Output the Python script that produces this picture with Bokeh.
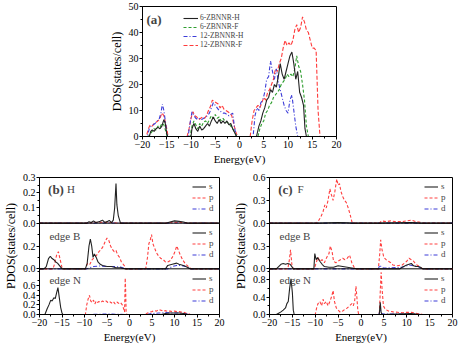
from bokeh.plotting import figure
from bokeh.models import (Range1d, FixedTicker, Legend, LegendItem, Label, Span,
                          CustomJSTickFormatter)
from bokeh.layouts import column, row
from bokeh.embed import file_html
from bokeh.resources import INLINE

FONT = "Liberation Serif"

# ---------------- ticks ----------------
E_TICKS = [-20, -15, -10, -5, 0, 5, 10, 15, 20]
E_MINOR = [-17.5, -12.5, -7.5, -2.5, 2.5, 7.5, 12.5, 17.5]
DOS_TICKS = [0, 10, 20, 30, 40, 50]
DOS_MINOR = [5, 15, 25, 35, 45]

# ---------------- panel (a): total DOS (energy, DOS) ----------------
DOS_6H = [(-20, 0), (-18.6, 0), (-18.3, 2), (-18, 2.5), (-17.6, 2), (-17.2, 3), (-16.8, 3.5),
          (-16.4, 3), (-16, 4), (-15.6, 6.5), (-15.3, 5), (-15, 1), (-14.8, 0), (-10, 0),
          (-9.8, 3), (-9.4, 5), (-9, 3), (-8.6, 2), (-8.2, 4), (-7.8, 2.5), (-7.4, 3), (-7, 4),
          (-6.6, 5), (-6.2, 4), (-5.8, 6), (-5.4, 7.5), (-5, 6), (-4.6, 5), (-4.2, 6.5),
          (-3.8, 5), (-3.4, 6), (-3, 5), (-2.6, 6), (-2.2, 4.5), (-1.8, 5), (-1.4, 3),
          (-1, 1.5), (-0.6, 0), (3.5, 0), (4, 4), (4.4, 6), (4.8, 9), (5.2, 11), (5.6, 14),
          (6, 15), (6.4, 18), (6.8, 17), (7.2, 20), (7.6, 19), (8, 23), (8.4, 28), (8.8, 24),
          (9.2, 22), (9.6, 25), (10, 28), (10.4, 31), (10.8, 32.5), (11.2, 28), (11.6, 22),
          (12, 25), (12.4, 17), (12.8, 15), (13.2, 12), (13.5, 3), (13.8, 0), (20, 0)]
DOS_6F = [(-20, 0), (-18.8, 0), (-18.4, 1), (-18, 2), (-17.6, 3), (-17.2, 2.5), (-16.8, 4),
          (-16.4, 3.5), (-16, 5), (-15.6, 4.5), (-15.2, 2), (-14.9, 0), (-10.2, 0), (-9.8, 4),
          (-9.4, 6), (-9, 4.5), (-8.6, 3), (-8.2, 5), (-7.8, 4), (-7.4, 5.5), (-7, 6), (-6.6, 5),
          (-6.2, 6.5), (-5.8, 8), (-5.4, 7), (-5, 8.5), (-4.6, 7), (-4.2, 7.5), (-3.8, 6),
          (-3.4, 7), (-3, 6), (-2.6, 5.5), (-2.2, 5), (-1.8, 4), (-1.4, 3), (-1, 1.5),
          (-0.6, 0), (3.8, 0), (4.2, 3), (4.6, 5), (5, 6), (5.4, 9), (5.8, 10), (6.2, 12),
          (6.6, 13), (7, 15), (7.4, 16), (7.8, 17), (8.2, 18), (8.6, 20), (9, 21), (9.4, 22),
          (9.8, 24), (10.2, 23), (10.6, 24), (11, 23), (11.4, 26), (11.8, 31), (12.2, 27),
          (12.6, 25), (13, 20), (13.4, 14), (13.8, 4), (14.2, 0), (20, 0)]
DOS_12H = [(-20, 0), (-19, 0), (-18.6, 3), (-18.2, 4), (-17.8, 4.5), (-17.4, 5), (-17, 6),
           (-16.6, 6.5), (-16.2, 9), (-15.9, 12.5), (-15.6, 10), (-15.3, 6), (-15, 1), (-14.8, 0),
           (-10.6, 0), (-10.2, 5), (-9.8, 9.5), (-9.4, 8), (-9, 7), (-8.6, 6.5), (-8.2, 7),
           (-7.8, 6.5), (-7.4, 7), (-7, 7.5), (-6.6, 8), (-6.2, 9), (-5.8, 11), (-5.4, 13),
           (-5, 12), (-4.6, 11), (-4.2, 10), (-3.8, 9.5), (-3.4, 9), (-3, 9), (-2.6, 8.5),
           (-2.2, 8), (-1.8, 8.5), (-1.4, 9), (-1, 3), (-0.6, 0), (2.8, 0), (3.2, 8), (3.6, 11),
           (4, 10), (4.4, 13), (4.8, 14), (5.2, 17), (5.6, 22), (6, 23), (6.4, 29), (6.8, 25),
           (7.2, 22), (7.6, 26), (8, 21), (8.4, 18), (8.8, 15), (9.2, 12), (9.6, 10), (10, 9),
           (10.4, 14), (10.8, 16), (11.2, 10), (11.6, 4), (12, 0), (20, 0)]
DOS_12F = [(-20, 0), (-19.2, 0), (-18.8, 3), (-18.4, 4.5), (-18, 4), (-17.6, 5), (-17.2, 5.5),
           (-16.8, 6), (-16.4, 7), (-16, 9), (-15.6, 8), (-15.2, 5), (-14.8, 1), (-14.6, 0),
           (-10.8, 0), (-10.4, 3), (-10, 7), (-9.6, 9.5), (-9.2, 8), (-8.8, 7.5), (-8.4, 6.5),
           (-8, 7), (-7.6, 7.5), (-7.2, 7), (-6.8, 8), (-6.4, 10), (-6, 11.5), (-5.6, 14),
           (-5.2, 13.5), (-4.8, 13), (-4.4, 12.5), (-4, 11), (-3.6, 12), (-3.2, 10.5),
           (-2.8, 10), (-2.4, 9.5), (-2, 9), (-1.6, 8), (-1.2, 5), (-0.8, 2), (-0.4, 0),
           (2.2, 0), (2.6, 6), (3, 10), (3.4, 11), (3.8, 12), (4.2, 11), (4.6, 13), (5, 15),
           (5.4, 14), (5.8, 17), (6.2, 18), (6.6, 20), (7, 22), (7.4, 26), (7.8, 25), (8.2, 28),
           (8.6, 30), (9, 34), (9.4, 37), (9.8, 35), (10.2, 36), (10.6, 35), (11, 37), (11.4, 41),
           (11.8, 43), (12.2, 40), (12.6, 42), (13, 46), (13.4, 44), (13.8, 41), (14.2, 40),
           (14.6, 37), (15, 34), (15.4, 34), (15.8, 33), (16.2, 10), (16.6, 0), (20, 0)]

SERIES_A = ["6-ZBNNR-H", "6-ZBNNR-F", "12-ZBNNR-H", "12-ZBNNR-F"]

# ---------------- panel (b): H-terminated PDOS ----------------
B_TOPS = [0.95, 0.4, 0.3]            # bottom (edge N), middle (edge B), top (H)
B_YTICKS = [[0.0, 0.2, 0.4, 0.6], [0.0, 0.2], [0.0, 0.1, 0.2, 0.3]]
B_YMINOR = [[0.1, 0.3, 0.5, 0.7, 0.9], [0.1, 0.3], [0.05, 0.15, 0.25]]

B_H_S = [(-20, 0), (-9.5, 0), (-9, 0.01), (-8.5, 0.004), (-8, 0.015), (-7.5, 0.004), (-7, 0.008),
         (-6.5, 0.012), (-6, 0.02), (-5.5, 0.005), (-5, 0.01), (-4.5, 0.018), (-4, 0.004),
         (-3.6, 0.02), (-3.3, 0.1), (-3.0, 0.26), (-2.8, 0.12), (-2.5, 0.05), (-2.2, 0.02),
         (-2, 0), (8, 0), (9, 0.008), (10, 0.015), (11, 0.012), (12, 0.008), (13, 0), (20, 0)]
B_H_P = [(-20, 0), (-9.5, 0), (-8, 0.004), (-6, 0.006), (-4, 0.004), (-2, 0), (8, 0),
         (10, 0.006), (12, 0.004), (13.5, 0), (20, 0)]
B_H_D = [(-20, 0), (-9, 0), (-5, 0.002), (-1, 0), (9, 0), (11, 0.003), (13, 0), (20, 0)]

B_EB_S = [(-20, 0), (-19, 0), (-18.5, 0.02), (-18, 0.09), (-17.6, 0.11), (-17.2, 0.09),
          (-16.8, 0.08), (-16.4, 0.06), (-16, 0.05), (-15.6, 0.03), (-15.2, 0.01), (-15, 0),
          (-9.8, 0), (-9.4, 0.05), (-9, 0.2), (-8.7, 0.26), (-8.4, 0.2), (-8.1, 0.1),
          (-7.8, 0.13), (-7.4, 0.1), (-7, 0.06), (-6.5, 0.04), (-6, 0.03), (-5, 0.02),
          (-4, 0.02), (-3, 0.01), (-2, 0.01), (-1, 0), (8, 0), (8.5, 0.03), (9.5, 0.04),
          (10.5, 0.05), (11, 0.04), (12, 0.03), (12.5, 0.02), (13.5, 0), (20, 0)]
B_EB_P = [(-20, 0), (-17, 0), (-16.6, 0.05), (-16.2, 0.12), (-15.8, 0.15), (-15.4, 0.08),
          (-15, 0.01), (-14.8, 0), (-9.8, 0), (-9.3, 0.05), (-8.8, 0.04), (-8.3, 0.08),
          (-7.8, 0.1), (-7.3, 0.12), (-6.8, 0.15), (-6.3, 0.17), (-5.8, 0.2), (-5.4, 0.24),
          (-5, 0.27), (-4.6, 0.25), (-4.2, 0.2), (-3.8, 0.17), (-3.4, 0.15), (-3, 0.16),
          (-2.6, 0.12), (-2.2, 0.1), (-1.8, 0.06), (-1.4, 0.04), (-1, 0.02), (-0.8, 0),
          (3.6, 0), (4, 0.1), (4.3, 0.22), (4.6, 0.25), (4.9, 0.3), (5.2, 0.22), (5.6, 0.18),
          (6, 0.14), (6.5, 0.11), (7, 0.09), (7.5, 0.08), (8, 0.06), (8.5, 0.06), (9, 0.07),
          (9.5, 0.1), (10, 0.14), (10.5, 0.2), (10.9, 0.16), (11.3, 0.12), (11.8, 0.08),
          (12.3, 0.05), (12.8, 0.03), (13.3, 0.01), (13.8, 0), (20, 0)]
B_EB_D = [(-20, 0), (-9.5, 0), (-8, 0.02), (-6.5, 0.025), (-5, 0.02), (-3.5, 0.02),
          (-2, 0.015), (-1, 0), (8.5, 0), (9.5, 0.02), (10.5, 0.03), (11.5, 0.03), (12.5, 0.02),
          (13.5, 0), (20, 0)]

B_EN_S = [(-20, 0), (-18.8, 0), (-18.3, 0.12), (-17.9, 0.2), (-17.5, 0.3), (-17.2, 0.28),
          (-16.8, 0.35), (-16.5, 0.33), (-16.2, 0.45), (-15.9, 0.56), (-15.6, 0.35),
          (-15.3, 0.15), (-15, 0.03), (-14.8, 0), (7, 0), (8, 0.02), (9, 0.03), (10, 0.03),
          (11, 0.03), (12, 0.02), (13, 0), (20, 0)]
B_EN_P = [(-20, 0), (-9.8, 0), (-9.5, 0.2), (-9.2, 0.32), (-8.9, 0.4), (-8.6, 0.28),
          (-8.3, 0.25), (-8, 0.3), (-7.7, 0.22), (-7.4, 0.28), (-7.1, 0.25), (-6.8, 0.27),
          (-6.4, 0.25), (-6, 0.28), (-5.6, 0.26), (-5.2, 0.28), (-4.8, 0.25), (-4.4, 0.27),
          (-4, 0.24), (-3.6, 0.27), (-3.2, 0.22), (-2.8, 0.26), (-2.4, 0.23), (-2, 0.25),
          (-1.6, 0.2), (-1.3, 0.12), (-1.1, 0.05), (-0.95, 0.76), (-0.85, 0.5), (-0.75, 0.05),
          (-0.6, 0), (3.5, 0), (4, 0.03), (4.5, 0.05), (5, 0.06), (5.5, 0.08), (6, 0.07),
          (6.5, 0.1), (7, 0.09), (7.5, 0.07), (8, 0.08), (8.5, 0.06), (9, 0.07), (9.5, 0.06),
          (10, 0.07), (10.5, 0.06), (11, 0.06), (11.5, 0.05), (12, 0.05), (12.5, 0.03),
          (13, 0.02), (13.5, 0), (20, 0)]
B_EN_D = [(-20, 0), (-9, 0), (-5, 0.01), (-1, 0), (3.5, 0), (5, 0.02), (6.5, 0.03), (8, 0.04),
          (9.5, 0.03), (11, 0.03), (12.5, 0.02), (13.5, 0), (20, 0)]

# ---------------- panel (c): F-terminated PDOS ----------------
C_TOPS = [1.05, 0.6, 0.6]            # bottom (edge N), middle (edge B), top (F)
C_YTICKS = [[0.0, 0.4, 0.8], [0.0, 0.3], [0.0, 0.3, 0.6]]
C_YMINOR = [[0.2, 0.6, 1.0], [0.15, 0.45], [0.15, 0.45]]

C_F_S = [(-20, 0), (-9, 0), (-7, 0.006), (-5, 0.008), (-3, 0.005), (-2, 0), (4, 0),
         (8, 0.005), (11, 0.008), (13, 0), (20, 0)]
C_F_P = [(-20, 0), (-9.8, 0), (-9.3, 0.03), (-8.8, 0.08), (-8.3, 0.15), (-7.9, 0.24),
         (-7.6, 0.2), (-7.2, 0.3), (-6.8, 0.45), (-6.5, 0.38), (-6.1, 0.3), (-5.7, 0.42),
         (-5.3, 0.58), (-5.0, 0.5), (-4.7, 0.52), (-4.4, 0.42), (-4.0, 0.35), (-3.6, 0.3),
         (-3.2, 0.27), (-2.8, 0.2), (-2.4, 0.12), (-2.0, 0.02), (-1.8, 0), (4, 0),
         (4.5, 0.03), (5.5, 0.02), (6.5, 0.03), (7.5, 0.02), (9, 0.02), (10, 0.03),
         (11, 0.04), (12, 0.02), (13, 0.01), (13.5, 0), (20, 0)]
C_F_D = [(-20, 0), (-8, 0), (-5, 0.003), (-2, 0), (20, 0)]

C_EB_S = [(-20, 0), (-18.5, 0), (-18, 0.03), (-17.5, 0.06), (-17, 0.07), (-16.5, 0.06),
          (-16, 0.07), (-15.5, 0.06), (-15, 0.02), (-14.8, 0), (-10.3, 0), (-10.1, 0.2),
          (-9.8, 0.12), (-9.5, 0.15), (-9, 0.1), (-8.5, 0.06), (-8, 0.03), (-7, 0.02),
          (-6, 0.02), (-5, 0.04), (-4, 0.03), (-3, 0.02), (-2, 0.01), (-1, 0), (8.5, 0),
          (9, 0.02), (10, 0.05), (10.5, 0.06), (11, 0.07), (11.5, 0.04), (12, 0.03),
          (12.5, 0.03), (13, 0.02), (13.5, 0), (20, 0)]
C_EB_P = [(-20, 0), (-16, 0), (-15.7, 0.1), (-15.4, 0.25), (-15.1, 0.05), (-14.8, 0),
          (-10.2, 0), (-9.8, 0.08), (-9.4, 0.15), (-9, 0.1), (-8.5, 0.12), (-8, 0.08),
          (-7.5, 0.15), (-7, 0.2), (-6.7, 0.3), (-6.3, 0.22), (-6, 0.1), (-5.5, 0.08),
          (-5, 0.1), (-4.5, 0.12), (-4, 0.14), (-3.5, 0.12), (-3, 0.14), (-2.5, 0.18),
          (-2, 0.08), (-1.5, 0.02), (-1, 0), (3.8, 0), (4.1, 0.2), (4.3, 0.38), (4.6, 0.25),
          (5, 0.15), (5.5, 0.12), (6, 0.1), (6.5, 0.08), (7, 0.05), (8, 0.04), (9, 0.05),
          (10, 0.1), (10.5, 0.14), (11, 0.12), (11.5, 0.1), (12, 0.06), (12.5, 0.04),
          (13, 0.02), (13.5, 0), (20, 0)]
C_EB_D = [(-20, 0), (3.8, 0), (4.1, 0.05), (4.5, 0.02), (5, 0.01), (9, 0.02), (10.5, 0.05),
          (11.5, 0.04), (12.5, 0.03), (13.3, 0), (20, 0)]

C_EN_S = [(-20, 0), (-18.5, 0), (-18, 0.03), (-17.5, 0.06), (-17, 0.1), (-16.5, 0.15),
          (-16.2, 0.25), (-15.9, 0.3), (-15.6, 0.6), (-15.3, 0.82), (-15.0, 0.5),
          (-14.8, 0.1), (-14.6, 0), (4, 0), (4.2, 0.28), (4.4, 0.05), (4.6, 0), (8, 0.01),
          (11, 0.02), (13, 0), (20, 0)]
C_EN_P = [(-20, 0), (-10, 0), (-9.7, 0.15), (-9.4, 0.25), (-9, 0.3), (-8.6, 0.2),
          (-8.3, 0.35), (-8, 0.25), (-7.6, 0.3), (-7.2, 0.2), (-6.8, 0.3), (-6.4, 0.42),
          (-6.1, 0.55), (-5.8, 0.3), (-5.4, 0.15), (-5, 0.1), (-4.5, 0.05), (-4, 0.08),
          (-3.5, 0.12), (-3, 0.15), (-2.5, 0.2), (-2, 0.25), (-1.7, 0.2), (-1.4, 0.3),
          (-1.1, 0.65), (-0.9, 0.4), (-0.7, 0.1), (-0.5, 0), (4.0, 0), (4.2, 0.5), (4.4, 0.97),
          (4.6, 0.6), (4.9, 0.2), (5.3, 0.12), (6, 0.08), (7, 0.06), (8, 0.05), (9, 0.04),
          (10, 0.05), (11, 0.05), (12, 0.03), (13, 0.01), (13.5, 0), (20, 0)]
C_EN_D = [(-20, 0), (3.9, 0), (4.2, 0.1), (4.5, 0.02), (5, 0.01), (9, 0.01), (12, 0.01),
          (13, 0), (20, 0)]

ORBITALS = ["s", "p", "d"]


def xy(pairs):
    return [q[0] for q in pairs], [q[1] for q in pairs]


def style(p):
    p.outline_line_color = "black"
    p.outline_line_width = 1
    p.outline_line_alpha = 1
    p.xgrid.visible = False
    p.ygrid.visible = False
    for ax in p.axis:
        ax.major_label_text_font = FONT
        ax.major_label_text_font_size = "10px"
        ax.major_label_text_color = "black"
        ax.axis_label_text_font = FONT
        ax.axis_label_text_font_style = "normal"
        ax.axis_label_text_color = "black"
        ax.major_tick_in = 0
        ax.major_tick_out = 3
        ax.minor_tick_in = 0
        ax.minor_tick_out = 2
        ax.major_label_standoff = 1
        ax.axis_label_standoff = 2
        ax.axis_line_color = "black"
        ax.major_tick_line_color = "black"
        ax.minor_tick_line_color = "black"


# ---------------- figure (a) ----------------
fa = figure(width=458, height=172, x_range=Range1d(-20, 20), y_range=Range1d(0, 50),
            output_backend="svg", toolbar_location=None,
            min_border_left=142, min_border_right=122, min_border_top=6, min_border_bottom=36)
style(fa)
fa.xaxis.ticker = FixedTicker(ticks=E_TICKS, minor_ticks=E_MINOR)
fa.yaxis.ticker = FixedTicker(ticks=DOS_TICKS, minor_ticks=DOS_MINOR)
fa.xaxis.axis_label = "Energy(eV)"
fa.yaxis.axis_label = "DOS(states/cell)"
fa.xaxis.axis_label_text_font_size = "11px"
fa.yaxis.axis_label_text_font_size = "12px"

styles_a = {
    "6-ZBNNR-H": (DOS_6H, "#222222", "solid"),
    "6-ZBNNR-F": (DOS_6F, "#2f9e2f", "3 2"),
    "12-ZBNNR-H": (DOS_12H, "#3c3cd8", "4 2 1 2"),
    "12-ZBNNR-F": (DOS_12F, "#ff3b3b", "4 2"),
}
rend_a = {}
for name in reversed(SERIES_A):
    data, col, dash = styles_a[name]
    xs, ys = xy(data)
    rend_a[name] = fa.line(xs, ys, line_color=col, line_width=1.1, line_dash=dash)

leg_a = Legend(items=[LegendItem(label=n, renderers=[rend_a[n]]) for n in SERIES_A],
               location=(41, 87), label_text_font=FONT, label_text_font_size="7.5px",
               glyph_width=15, glyph_height=8, label_height=8, label_standoff=2,
               spacing=0, padding=0, margin=0, background_fill_alpha=0, border_line_alpha=0)
fa.add_layout(leg_a)
fa.add_layout(Label(x=-19.2, y=45, text="(a)", text_font=FONT, text_font_style="bold",
                    text_font_size="13px", text_baseline="middle"))


# ---------------- figures (b), (c) ----------------
def pdos_fig(width, bl, br, tops, yticks, yminor, bands, letter, atom, leg_x):
    frame_h = 138
    band_h = frame_h / 3
    ranges = {}
    for k in range(3):
        T = tops[k]
        ranges[f"band{k}"] = Range1d(start=-k * T, end=(3 - k) * T)
    p = figure(width=width, height=173, x_range=Range1d(-20, 20), y_range=Range1d(0, 3),
               output_backend="svg", toolbar_location=None,
               min_border_left=bl, min_border_right=br, min_border_top=5, min_border_bottom=30)
    p.extra_y_ranges = ranges
    style(p)
    p.xaxis.ticker = FixedTicker(ticks=E_TICKS, minor_ticks=E_MINOR)
    major = [k + v / tops[k] for k in range(3) for v in yticks[k]]
    minor = [k + v / tops[k] for k in range(3) for v in yminor[k]]
    p.yaxis.ticker = FixedTicker(ticks=major, minor_ticks=minor)
    p.yaxis.formatter = CustomJSTickFormatter(args=dict(tops=tops), code="""
        let k = Math.floor(tick + 1e-6);
        if (k > 2) { k = 2; }
        const v = (tick - k) * tops[k];
        return v.toFixed(1);
    """)
    p.xaxis.axis_label = "Energy(eV)"
    p.yaxis.axis_label = "PDOS(states/cell)"
    p.xaxis.axis_label_text_font_size = "11px"
    p.yaxis.axis_label_text_font_size = "12px"

    looks = {"s": ("#222222", "solid"), "p": ("#ff4040", "3 2"), "d": ("#3c3cd8", "4 2 1 2")}
    for k in range(3):
        rn = f"band{k}"
        rends = {}
        for orb in ["d", "p", "s"]:
            xs, ys = xy(bands[k][orb])
            col, dash = looks[orb]
            rends[orb] = p.line(xs, ys, y_range_name=rn, line_color=col, line_width=1.1,
                                line_dash=dash)
        leg = Legend(items=[LegendItem(label=o, renderers=[rends[o]]) for o in ORBITALS],
                     location=(leg_x, k * band_h + 9), label_text_font=FONT,
                     label_text_font_size="9px", glyph_width=14, glyph_height=9,
                     label_height=9, label_standoff=3, spacing=1, padding=0, margin=0,
                     background_fill_alpha=0, border_line_alpha=0)
        p.add_layout(leg)
    for loc in (1, 2):
        p.add_layout(Span(location=loc, dimension="width", line_color="black", line_width=1))
    p.add_layout(Label(x=-18.1, y=2.74, text=letter, text_font=FONT, text_font_style="bold",
                       text_font_size="13px", text_baseline="middle"))
    p.add_layout(Label(x=-13.9, y=2.74, text=atom, text_font=FONT,
                       text_font_size="11px", text_baseline="middle"))
    p.add_layout(Label(x=-17.8, y=1.72, text="edge B", text_font=FONT,
                       text_font_size="11px", text_baseline="middle"))
    p.add_layout(Label(x=-17.8, y=0.76, text="edge N", text_font=FONT,
                       text_font_size="11px", text_baseline="middle"))
    return p


bands_b = [
    {"s": B_EN_S, "p": B_EN_P, "d": B_EN_D},
    {"s": B_EB_S, "p": B_EB_P, "d": B_EB_D},
    {"s": B_H_S, "p": B_H_P, "d": B_H_D},
]
bands_c = [
    {"s": C_EN_S, "p": C_EN_P, "d": C_EN_D},
    {"s": C_EB_S, "p": C_EB_P, "d": C_EB_D},
    {"s": C_F_S, "p": C_F_P, "d": C_F_D},
]

fb = pdos_fig(230, 33, 11, B_TOPS, B_YTICKS, B_YMINOR, bands_b, "(b)", "H", 153)
fc = pdos_fig(228, 34, 6, C_TOPS, C_YTICKS, C_YMINOR, bands_c, "(c)", "F", 155)

layout = column(fa, row(fb, fc, spacing=0), spacing=0)
open("out.html", "w").write(file_html(layout, INLINE))
